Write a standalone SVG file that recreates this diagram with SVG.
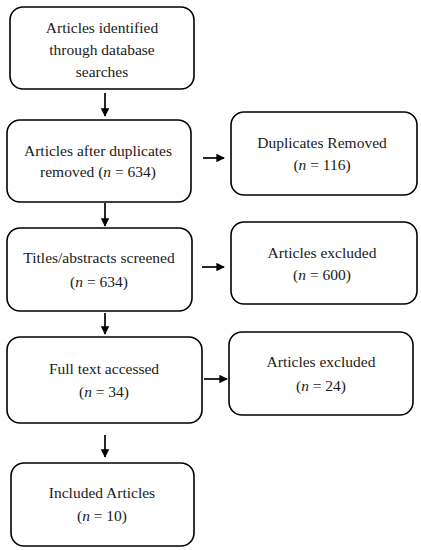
<svg xmlns="http://www.w3.org/2000/svg" width="421" height="550" viewBox="0 0 421 550">
<style>
rect.box{fill:#fff;stroke:#000;stroke-width:1.6}
text{font-family:"Liberation Serif","Times New Roman",serif;font-size:15.5px;fill:#1a1a1a;text-anchor:middle}
.c line{stroke:#000;stroke-width:1.7}
</style>
<defs>
<marker id="ah" viewBox="0 0 10 10" refX="9" refY="5" markerWidth="5" markerHeight="5" orient="auto" markerUnits="strokeWidth">
<path d="M0,0 L10,5 L0,10 z" fill="#000"/>
</marker>
</defs>
<rect width="421" height="550" fill="#fff"/>
<g id="n1"><rect class="box" x="10" y="7" width="184" height="82" rx="13"/>
<text x="102" y="33">Articles identified</text><text x="102" y="55">through database</text><text x="102" y="77">searches</text></g>
<g id="n2"><rect class="box" x="7" y="120" width="184" height="82" rx="13"/>
<text x="98" y="156">Articles after duplicates</text><text x="98" y="177">removed (<tspan font-style="italic">n</tspan> = 634)</text></g>
<g id="n3"><rect class="box" x="231" y="112" width="186" height="83" rx="13"/>
<text x="322" y="148">Duplicates Removed</text><text x="322" y="170">(<tspan font-style="italic">n</tspan> = 116)</text></g>
<g id="n4"><rect class="box" x="7" y="228" width="185" height="83" rx="13"/>
<text x="99" y="263">Titles/abstracts screened</text><text x="99" y="287">(<tspan font-style="italic">n</tspan> = 634)</text></g>
<g id="n5"><rect class="box" x="231" y="222" width="186" height="82" rx="13"/>
<text x="322" y="258">Articles excluded</text><text x="322" y="280">(<tspan font-style="italic">n</tspan> = 600)</text></g>
<g id="n6"><rect class="box" x="7" y="337" width="195" height="86" rx="13"/>
<text x="104" y="374">Full text accessed</text><text x="104" y="397">(<tspan font-style="italic">n</tspan> = 34)</text></g>
<g id="n7"><rect class="box" x="229" y="332" width="184" height="83" rx="13"/>
<text x="321" y="367">Articles excluded</text><text x="321" y="391">(<tspan font-style="italic">n</tspan> = 24)</text></g>
<g id="n8"><rect class="box" x="11" y="463" width="183" height="83" rx="13"/>
<text x="102" y="498">Included Articles</text><text x="102" y="521">(<tspan font-style="italic">n</tspan> = 10)</text></g>
<g id="connectors" class="c">
<line x1="105" y1="93" x2="105" y2="116" marker-end="url(#ah)"/>
<line x1="203" y1="158" x2="224" y2="158" marker-end="url(#ah)"/>
<line x1="105" y1="203" x2="105" y2="226" marker-end="url(#ah)"/>
<line x1="202" y1="267" x2="224" y2="267" marker-end="url(#ah)"/>
<line x1="105" y1="313" x2="105" y2="334" marker-end="url(#ah)"/>
<line x1="204" y1="379" x2="227" y2="379" marker-end="url(#ah)"/>
<line x1="105" y1="435" x2="105" y2="457" marker-end="url(#ah)"/>
</g>
</svg>
